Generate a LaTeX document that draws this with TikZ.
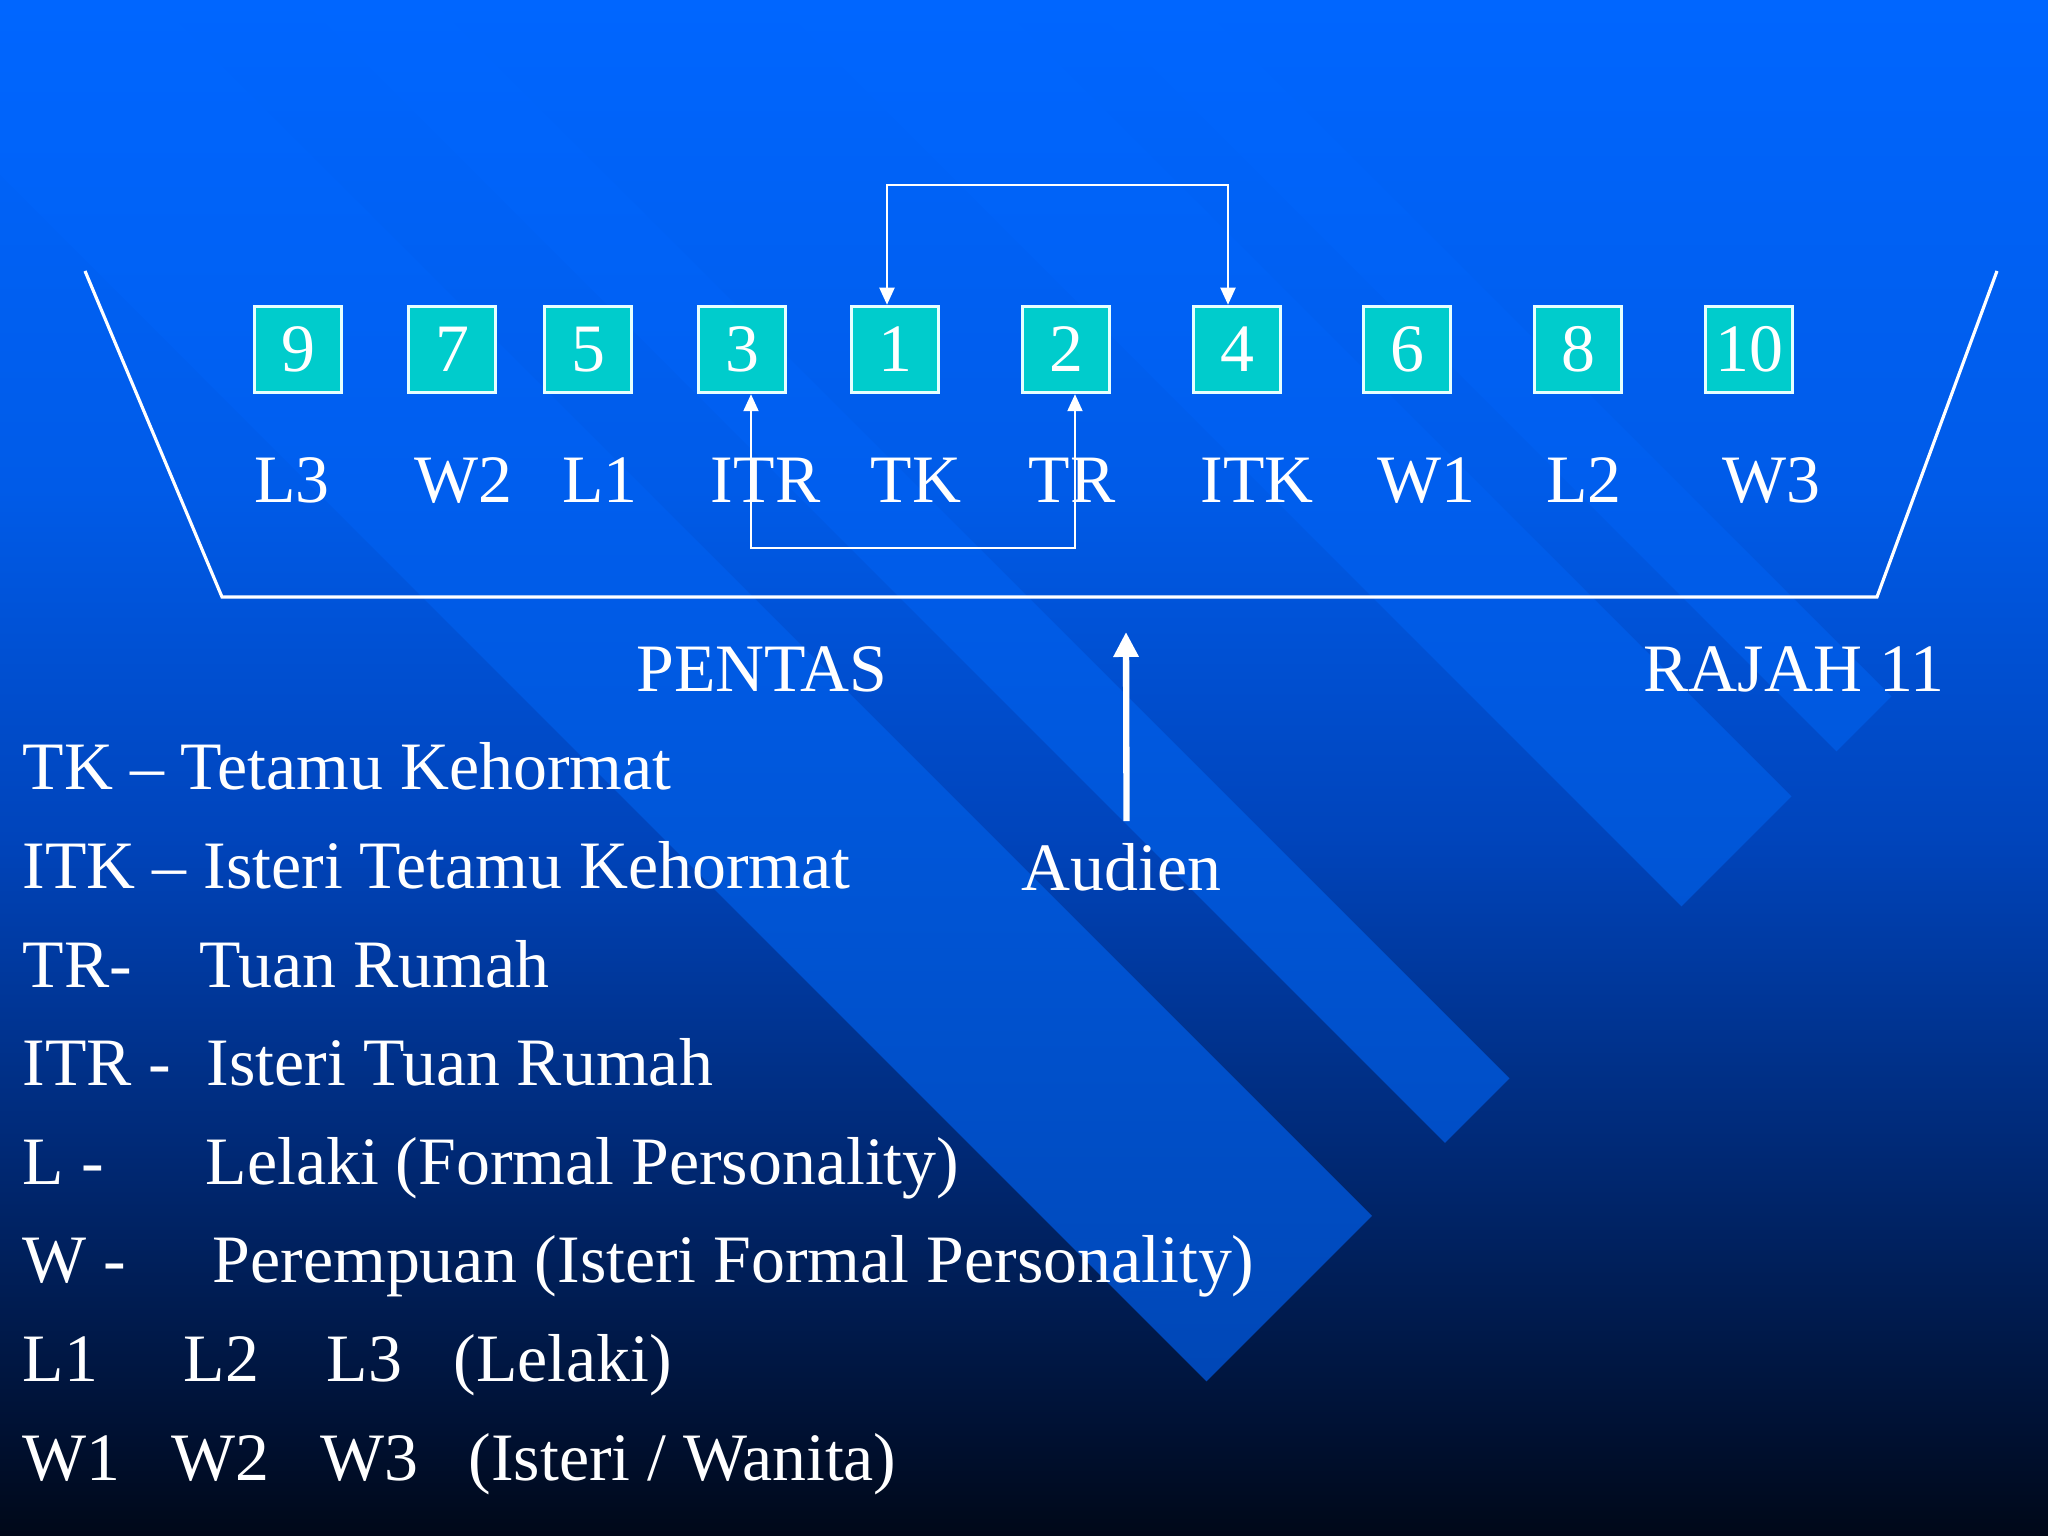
\documentclass[tikz,border=0pt]{standalone}
\usepackage{fontspec}
\setmainfont{Liberation Serif}
\usetikzlibrary{arrows.meta}

% slide colours
\definecolor{bgtop}{HTML}{0066FF}
\definecolor{bga}{HTML}{005BE8}
\definecolor{bgb}{HTML}{0044BB}
\definecolor{bgc}{HTML}{002A78}
\definecolor{bgd}{HTML}{001030}
\definecolor{bgbot}{HTML}{000818}
\definecolor{rbtop}{HTML}{0066FF}
\definecolor{rba}{HTML}{005EEE}
\definecolor{rbb}{HTML}{0056D8}
\definecolor{rbc}{HTML}{004EC6}
\definecolor{rbd}{HTML}{0045B2}
\definecolor{rbbot}{HTML}{0042AA}
\definecolor{seatcol}{HTML}{00CCCC}
\definecolor{seatrim}{HTML}{E6FFFF}

\pgfdeclareverticalshading{slidefade}{100bp}{color(0bp)=(bgbot); color(25bp)=(bgbot);
  color(28.1bp)=(bgd); color(37.9bp)=(bgc); color(47.7bp)=(bgb); color(59.1bp)=(bga);
  color(75bp)=(bgtop); color(100bp)=(bgtop)}
\pgfdeclareverticalshading{ribbonfade}{100bp}{color(0bp)=(rbbot); color(25bp)=(rbbot);
  color(28.1bp)=(rbd); color(37.9bp)=(rbc); color(47.7bp)=(rbb); color(59.1bp)=(rba);
  color(75bp)=(rbtop); color(100bp)=(rbtop)}

\newcommand\slidefont{\fontsize{19.3pt}{23pt}\selectfont}

\tikzset{
  seat/.style={draw=seatrim, line width=1pt, fill=seatcol, minimum width=0.87cm,
    minimum height=0.86cm, inner sep=0pt, text=white, font=\slidefont},
  guest/.style={anchor=base, inner sep=0pt, text=white, font=\slidefont},
  caption/.style={anchor=base west, inner sep=0pt, text=white, font=\slidefont},
  link/.style={draw=white, line width=0.6pt,
    {Triangle[length=1.7mm,width=1.5mm]}-{Triangle[length=1.7mm,width=1.5mm]}},
  stageline/.style={draw=white, line width=0.9pt},
  audarrow/.style={draw=white, line width=1.8pt, -{Triangle[length=2.5mm,width=2.4mm]}}
}

\begin{document}
\begin{tikzpicture}
\useasboundingbox (0,0) rectangle (20.48,15.36);

% background and ribbons
\shade[shading=slidefade] (0,0) rectangle (20.48,15.36);
\begin{scope}
\clip (12.065,1.545) -- (13.72,3.20) -- (0.92,16) -- (-2.39,16) -- cycle
      (14.45,3.93) -- (15.095,4.575) -- (3.67,16) -- (2.38,16) -- cycle
      (16.815,6.295) -- (17.915,7.395) -- (9.31,16) -- (7.11,16) -- cycle
      (18.365,7.845) -- (18.915,8.395) -- (11.31,16) -- (10.21,16) -- cycle;
\shade[shading=ribbonfade] (0,0) rectangle (20.48,15.36);
\end{scope}

% the stage
\draw[stageline] (0.85,12.65) -- (2.22,9.39) -- (18.77,9.39) -- (19.97,12.65);

% seats, from left to right
\node[seat] (b9) at (2.98,11.865) {9};
\node[seat] (b7) at (4.52,11.865) {7};
\node[seat] (b5) at (5.88,11.865) {5};
\node[seat] (b3) at (7.42,11.865) {3};
\node[seat] (b1) at (8.95,11.865) {1};
\node[seat] (b2) at (10.66,11.865) {2};
\node[seat] (b4) at (12.37,11.865) {4};
\node[seat] (b6) at (14.07,11.865) {6};
\node[seat] (b8) at (15.78,11.865) {8};
\node[seat] (b10) at (17.49,11.865) {10};

% who sits where
\node[guest] (g9) at (2.92,10.33) {L3};
\node[guest] (g7) at (4.635,10.33) {W2};
\node[guest] (g5) at (6.00,10.33) {L1};
\node[guest] (g3) at (7.656,10.33) {ITR};
\node[guest] (g1) at (9.158,10.33) {TK};
\node[guest] (g2) at (10.72,10.33) {TR};
\node[guest] (g4) at (12.57,10.33) {ITK};
\node[guest] (g6) at (14.26,10.33) {W1};
\node[guest] (g8) at (15.84,10.33) {L2};
\node[guest] (g10) at (17.717,10.33) {W3};

% couples
\draw[link] ([xshift=-0.08cm]b1.north) -- ++(0,1.195) -| ([xshift=-0.09cm]b4.north);
\draw[link] ([xshift=0.09cm]b3.south) -- ++(0,-1.535) -| ([xshift=0.09cm]b2.south);

\node[caption] (pentas) at (6.36,8.44) {PENTAS};
\node[caption] (rajah) at (16.43,8.44) {RAJAH 11};
\node[caption] (audien) at (10.21,6.45) {Audien};
\coordinate (front) at (11.26,9.04);
\draw[audarrow] ([xshift=0.05cm,yshift=0.22cm]audien.north) -- (front);

% legend
\node[caption] (lgtk) at (0.22,7.46) {TK – Tetamu Kehormat};
\node[caption] (lgitk) at (0.22,6.474) {ITK – Isteri Tetamu Kehormat};
\node[caption] (lgtr) at (0.22,5.488) {\makebox[1.77cm][l]{TR-}Tuan Rumah};
\node[caption] (lgitr) at (0.22,4.502) {\makebox[1.84cm][l]{ITR -}Isteri Tuan Rumah};
\node[caption] (lgl) at (0.22,3.516) {\makebox[1.83cm][l]{L -}Lelaki (Formal Personality)};
\node[caption] (lgw) at (0.22,2.53) {\makebox[1.90cm][l]{W -}Perempuan (Isteri Formal Personality)};
\node[caption] (lgln) at (0.22,1.544) {\makebox[1.61cm][l]{L1}\makebox[1.43cm][l]{L2}\makebox[1.27cm][l]{L3}(Lelaki)};
\node[caption] (lgwn) at (0.22,0.558) {\makebox[1.49cm][l]{W1}\makebox[1.49cm][l]{W2}\makebox[1.48cm][l]{W3}(Isteri / Wanita)};
\end{tikzpicture}
\end{document}
